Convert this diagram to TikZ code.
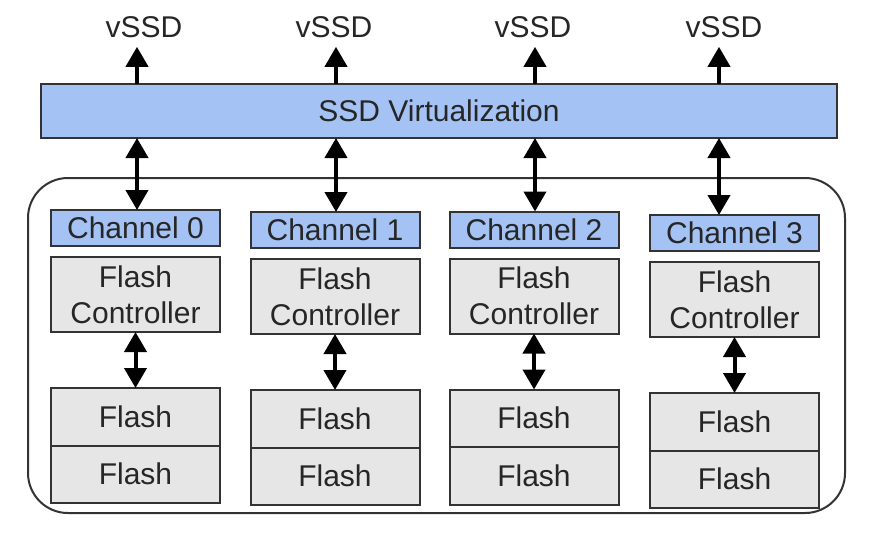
\documentclass[tikz,border=0pt]{standalone}
\usepackage{fontspec}
\setmainfont{Liberation Sans}
\usetikzlibrary{arrows.meta,positioning}
\definecolor{chblue}{HTML}{A4C2F4}
\definecolor{boxgray}{HTML}{E6E6E6}
\definecolor{edge}{HTML}{333333}
\tikzset{
  box/.style   = {draw=edge, line width=2pt, rectangle, minimum width=169pt,
                  align=center, inner sep=0pt, outer sep=0pt, text=black!85},
  chan/.style  = {box, fill=chblue, minimum height=36pt},
  ctrl/.style  = {box, fill=boxgray, minimum height=75pt},
  flash/.style = {box, fill=boxgray, minimum height=57.5pt},
  bus/.style   = {{Triangle[length=20pt,width=22pt]}-{Triangle[length=20pt,width=22pt]},
                  line width=4pt},
  up/.style    = {-{Triangle[length=20pt,width=22pt]}, line width=4pt},
}
\begin{document}
\begin{tikzpicture}[x=1pt, y=-1pt, node distance=11pt,
  font=\fontsize{30}{36}\selectfont]
\useasboundingbox (0,0) rectangle (880,536);
\draw[edge, line width=2pt, rounded corners=40pt] (28,178) rectangle (845,513);
\node[box, fill=chblue, minimum width=796pt, minimum height=54pt] (virt) at (439,111)
  {SSD Virtualization};
\foreach \i/\x/\y/\a/\l in {0/135.5/228/137/144, 1/335/230/336/334,
                            2/534/229.5/535/533, 3/734.5/233/719/724} {
  \node[chan] (ch\i) at (\x,\y) {Channel \i};
  \node[ctrl, below=of ch\i] (fc\i) {Flash\\Controller};
  \node[flash, below=56pt of fc\i] (fa\i) {Flash};
  \node[flash, below=0pt of fa\i] (fb\i) {Flash};
  \node[anchor=base, text=black!85] (v\i) at (\l,37) {vSSD};
  \coordinate (ax\i) at (\a,0);
  \draw[up, shorten >=6pt] (virt.north -| ax\i) -- (v\i.south -| ax\i);
  \draw[bus] (virt.south -| ax\i) -- (ch\i.north -| ax\i);
  \draw[bus] (fc\i) -- (fa\i);
}
\end{tikzpicture}
\end{document}
